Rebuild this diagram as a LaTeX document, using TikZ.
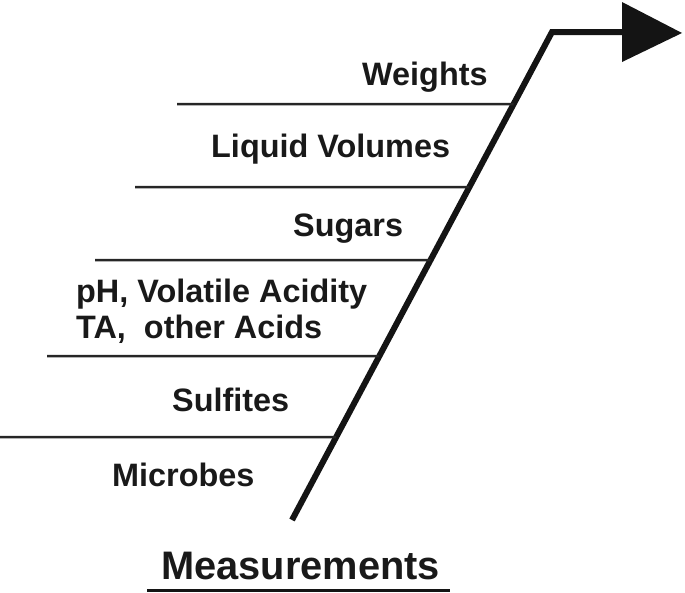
\documentclass[tikz,border=0pt]{standalone}
\usepackage{fontspec}
\setmainfont{Liberation Sans}
\usetikzlibrary{calc}
\begin{document}
\begin{tikzpicture}[x=1pt,y=-1pt,
  lbl/.style={anchor=base west,inner sep=0pt,font=\bfseries\fontsize{32.4}{36}\selectfont,text=black!90},
  bone/.style={line width=2.5pt,draw=black!85},
  spine/.style={line width=6pt,draw=black!92}]
\useasboundingbox (0,0) rectangle (685,592);
% spine
\coordinate (sb) at (292,520);
\coordinate (se) at (552,32);
\coordinate (ab) at (624,32);
\draw[spine,line join=miter] (sb) -- (se) -- (ab);
\fill[black!92] (622,2) coordinate (h1) -- (682,33) coordinate (h2) -- (622,62) coordinate (h3) -- cycle;
% bones
\coordinate (w0) at (177,104);   \coordinate (w1) at ($(sb)!{(520-104)/488}!(se)$);
\coordinate (l0) at (135,187);   \coordinate (l1) at ($(sb)!{(520-187)/488}!(se)$);
\coordinate (s0) at (95,260);    \coordinate (s1) at ($(sb)!{(520-260)/488}!(se)$);
\coordinate (p0) at (47,356);    \coordinate (p1) at ($(sb)!{(520-356)/488}!(se)$);
\coordinate (f0) at (0,437);     \coordinate (f1) at ($(sb)!{(520-437)/488}!(se)$);
\draw[bone] (w0) -- (w1);
\draw[bone] (l0) -- (l1);
\draw[bone] (s0) -- (s1);
\draw[bone] (p0) -- (p1);
\draw[bone] (f0) -- (f1);
% labels
\node[lbl] (tw) at (362,85) {Weights};
\node[lbl] (tl) at (211,157) {Liquid Volumes};
\node[lbl] (ts) at (293,236) {Sugars};
\node[lbl] (tp) at (76,302) {pH, Volatile Acidity};
\node[lbl] (tt) at (76,338) {TA,\ \ other Acids};
\node[lbl] (tf) at (172,411) {Sulfites};
\node[lbl] (tm) at (112,486) {Microbes};
\node[lbl,font=\bfseries\fontsize{39.8}{44}\selectfont] (tmeas) at (161,579) {Measurements};
\coordinate (u0) at (147,590);
\coordinate (u1) at (450,590);
\draw[line width=3pt,black!92] (u0) -- (u1);
\end{tikzpicture}
\end{document}
